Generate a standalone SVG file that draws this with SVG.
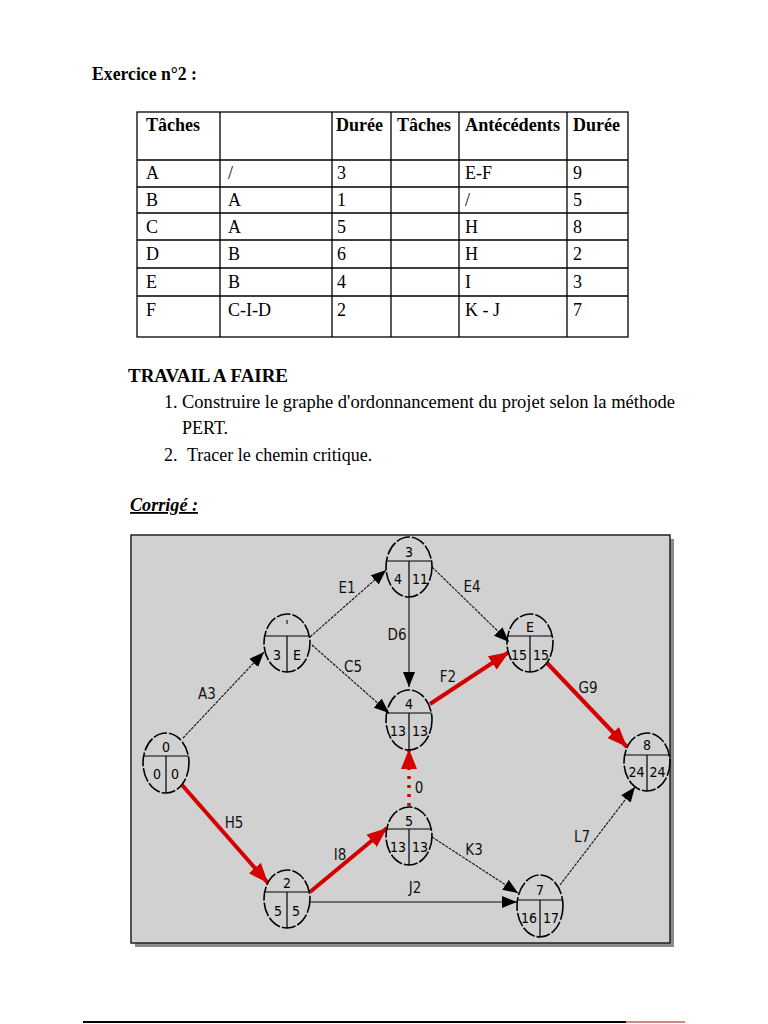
<svg xmlns="http://www.w3.org/2000/svg" width="768" height="1024" viewBox="0 0 768 1024">
<defs>
<style>
.t{font-family:"Liberation Serif","Times New Roman",serif;font-size:18px;fill:#000}
.b{font-weight:bold}
.grid{stroke:#000;stroke-width:1.3;fill:none}
.nd{fill:none;stroke:#000;stroke-width:1.6;stroke-dasharray:14 2}
.nl{stroke:#000;stroke-width:1.2}
.nt{font-family:"DejaVu Sans Condensed","DejaVu Sans",sans-serif;font-stretch:condensed;font-size:14px;fill:#000;text-anchor:middle}
.lb{font-family:"DejaVu Sans Condensed","DejaVu Sans",sans-serif;font-stretch:condensed;font-size:15px;fill:#111;text-anchor:middle}
.e{stroke:#111;stroke-width:1.1;fill:none;stroke-dasharray:3 1;marker-end:url(#ab)}
.es{stroke:#111;stroke-width:1.1;fill:none;marker-end:url(#ab)}
.r{stroke:#d40000;stroke-width:4;fill:none;marker-end:url(#ar)}
.rd{stroke:#d40000;stroke-width:3.5;fill:none;stroke-dasharray:3 6;marker-end:url(#ar)}
</style>
<marker id="ab" markerUnits="userSpaceOnUse" markerWidth="15" markerHeight="12" refX="15" refY="6" orient="auto"><path d="M0,0 L15,6 L0,12 z" fill="#000"/></marker>
<marker id="ar" markerUnits="userSpaceOnUse" markerWidth="20" markerHeight="16" refX="20" refY="8" orient="auto"><path d="M0,0 L20,8 L0,16 z" fill="#d40000"/></marker>
</defs>
<rect width="768" height="1024" fill="#fff"/>

<text class="t b" x="92" y="80" textLength="105" lengthAdjust="spacingAndGlyphs">Exercice n°2 :</text>

<g id="table">
<rect class="grid" x="137" y="112" width="491" height="225"/>
<path class="grid" d="M220,112V337M332,112V337M391,112V337M459,112V337M567,112V337M137,160H628M137,187H628M137,213H628M137,240H628M137,268H628M137,296H628"/>
<text class="t b" x="146" y="131">Tâches</text>
<text class="t b" x="336" y="131">Durée</text>
<text class="t b" x="397" y="131">Tâches</text>
<text class="t b" x="465" y="131" textLength="95" lengthAdjust="spacingAndGlyphs">Antécédents</text>
<text class="t b" x="573" y="131">Durée</text>
<text class="t" x="146" y="179">A</text><text class="t" x="228" y="179">/</text><text class="t" x="337" y="179">3</text><text class="t" x="465" y="179">E-F</text><text class="t" x="573" y="179">9</text>
<text class="t" x="146" y="206">B</text><text class="t" x="228" y="206">A</text><text class="t" x="337" y="206">1</text><text class="t" x="465" y="206">/</text><text class="t" x="573" y="206">5</text>
<text class="t" x="146" y="233">C</text><text class="t" x="228" y="233">A</text><text class="t" x="337" y="233">5</text><text class="t" x="465" y="233">H</text><text class="t" x="573" y="233">8</text>
<text class="t" x="146" y="260">D</text><text class="t" x="228" y="260">B</text><text class="t" x="337" y="260">6</text><text class="t" x="465" y="260">H</text><text class="t" x="573" y="260">2</text>
<text class="t" x="146" y="288">E</text><text class="t" x="228" y="288">B</text><text class="t" x="337" y="288">4</text><text class="t" x="465" y="288">I</text><text class="t" x="573" y="288">3</text>
<text class="t" x="146" y="316">F</text><text class="t" x="228" y="316">C-I-D</text><text class="t" x="337" y="316">2</text><text class="t" x="465" y="316">K - J</text><text class="t" x="573" y="316">7</text>
</g>

<text class="t b" x="128" y="382" textLength="160" lengthAdjust="spacingAndGlyphs">TRAVAIL A FAIRE</text>
<text class="t" x="164" y="408">1.</text>
<text class="t" x="182" y="408" textLength="493" lengthAdjust="spacingAndGlyphs">Construire le graphe d'ordonnancement du projet selon la méthode</text>
<text class="t" x="182" y="434">PERT.</text>
<text class="t" x="164" y="461">2.</text>
<text class="t" x="187" y="461">Tracer le chemin critique.</text>
<text class="t b" x="130" y="511" font-style="italic" text-decoration="underline" textLength="68" lengthAdjust="spacingAndGlyphs">Corrigé :</text>

<rect x="135" y="539" width="539" height="408" fill="#8a8a8a"/>
<rect x="131" y="535" width="539" height="408" fill="#d1d1d1" stroke="#222" stroke-width="1.5"/>

<g id="connectors">
<path class="e" d="M183,738 L264,652"/>
<path class="e" d="M310,637 L386,570"/>
<path class="e" d="M312,645 L389,713"/>
<path class="es" d="M409,597 L409,687"/>
<path class="e" d="M432,567 L509,642"/>
<path class="r" d="M430,704 L509,652"/>
<path class="r" d="M547,663 L627,747"/>
<path class="r" d="M182,785 L268,883"/>
<path class="r" d="M310,892 L387,828"/>
<path class="rd" d="M409,806 L409,749"/>
<path class="e" d="M432,837 L518,893"/>
<path class="es" d="M310,902 L517,902"/>
<path class="e" d="M560,885 L635,787"/>
<text class="lb" x="207" y="699">A3</text>
<text class="lb" x="347" y="593">E1</text>
<text class="lb" x="353" y="672">C5</text>
<text class="lb" x="397" y="640">D6</text>
<text class="lb" x="472" y="592">E4</text>
<text class="lb" x="448" y="682">F2</text>
<text class="lb" x="588" y="693">G9</text>
<text class="lb" x="234" y="828">H5</text>
<text class="lb" x="340" y="860">I8</text>
<text class="lb" x="419" y="793">0</text>
<text class="lb" x="474" y="855">K3</text>
<text class="lb" x="415" y="893">J2</text>
<text class="lb" x="582" y="842">L7</text>
</g>

<g id="n0"><ellipse class="nd" cx="166" cy="763" rx="23" ry="30"/><path class="nl" d="M143.5,756H188.5M166,756V793"/><text class="nt" x="166" y="752">0</text><text class="nt" x="157" y="779">0</text><text class="nt" x="175" y="779">0</text></g>
<g id="n1"><ellipse class="nd" cx="287" cy="643" rx="23" ry="29"/><path class="nl" d="M264.5,636H309.5M287,636V672"/><text class="nt" x="287" y="630">'</text><text class="nt" x="277" y="660">3</text><text class="nt" x="297" y="660">E</text></g>
<g id="n2"><ellipse class="nd" cx="287" cy="899" rx="23" ry="29"/><path class="nl" d="M264.5,892H309.5M287,892V928"/><text class="nt" x="287" y="888">2</text><text class="nt" x="278" y="916">5</text><text class="nt" x="296" y="916">5</text></g>
<g id="n3"><ellipse class="nd" cx="409" cy="567" rx="23" ry="30"/><path class="nl" d="M386.5,561H431.5M409,561V597"/><text class="nt" x="409" y="557">3</text><text class="nt" x="398" y="584">4</text><text class="nt" x="420" y="584">11</text></g>
<g id="n4"><ellipse class="nd" cx="409" cy="720" rx="23" ry="30"/><path class="nl" d="M386.5,713H431.5M409,713V750"/><text class="nt" x="409" y="709">4</text><text class="nt" x="398" y="736">13</text><text class="nt" x="420" y="736">13</text></g>
<g id="n5"><ellipse class="nd" cx="409" cy="836" rx="23" ry="29"/><path class="nl" d="M386.5,829H431.5M409,829V865"/><text class="nt" x="409" y="826">5</text><text class="nt" x="398" y="852">13</text><text class="nt" x="420" y="852">13</text></g>
<g id="n6"><ellipse class="nd" cx="530" cy="643" rx="23" ry="29"/><path class="nl" d="M507.5,636H552.5M530,636V672"/><text class="nt" x="530" y="632">E</text><text class="nt" x="519" y="660">15</text><text class="nt" x="541" y="660">15</text></g>
<g id="n7"><ellipse class="nd" cx="540" cy="906" rx="23" ry="31"/><path class="nl" d="M517.5,900H562.5M540,900V937"/><text class="nt" x="540" y="895">7</text><text class="nt" x="529" y="923">16</text><text class="nt" x="551" y="923">17</text></g>
<g id="n8"><ellipse class="nd" cx="647" cy="762" rx="23" ry="29"/><path class="nl" d="M624.5,755H669.5M647,755V791"/><text class="nt" x="647" y="750">8</text><text class="nt" x="636.5" y="777" font-size="13">24</text><text class="nt" x="657.5" y="777" font-size="13">24</text></g>

<path d="M83,1022H626" stroke="#000" stroke-width="2"/>
<path d="M626,1022H685" stroke="#c98a8a" stroke-width="2"/>
</svg>
